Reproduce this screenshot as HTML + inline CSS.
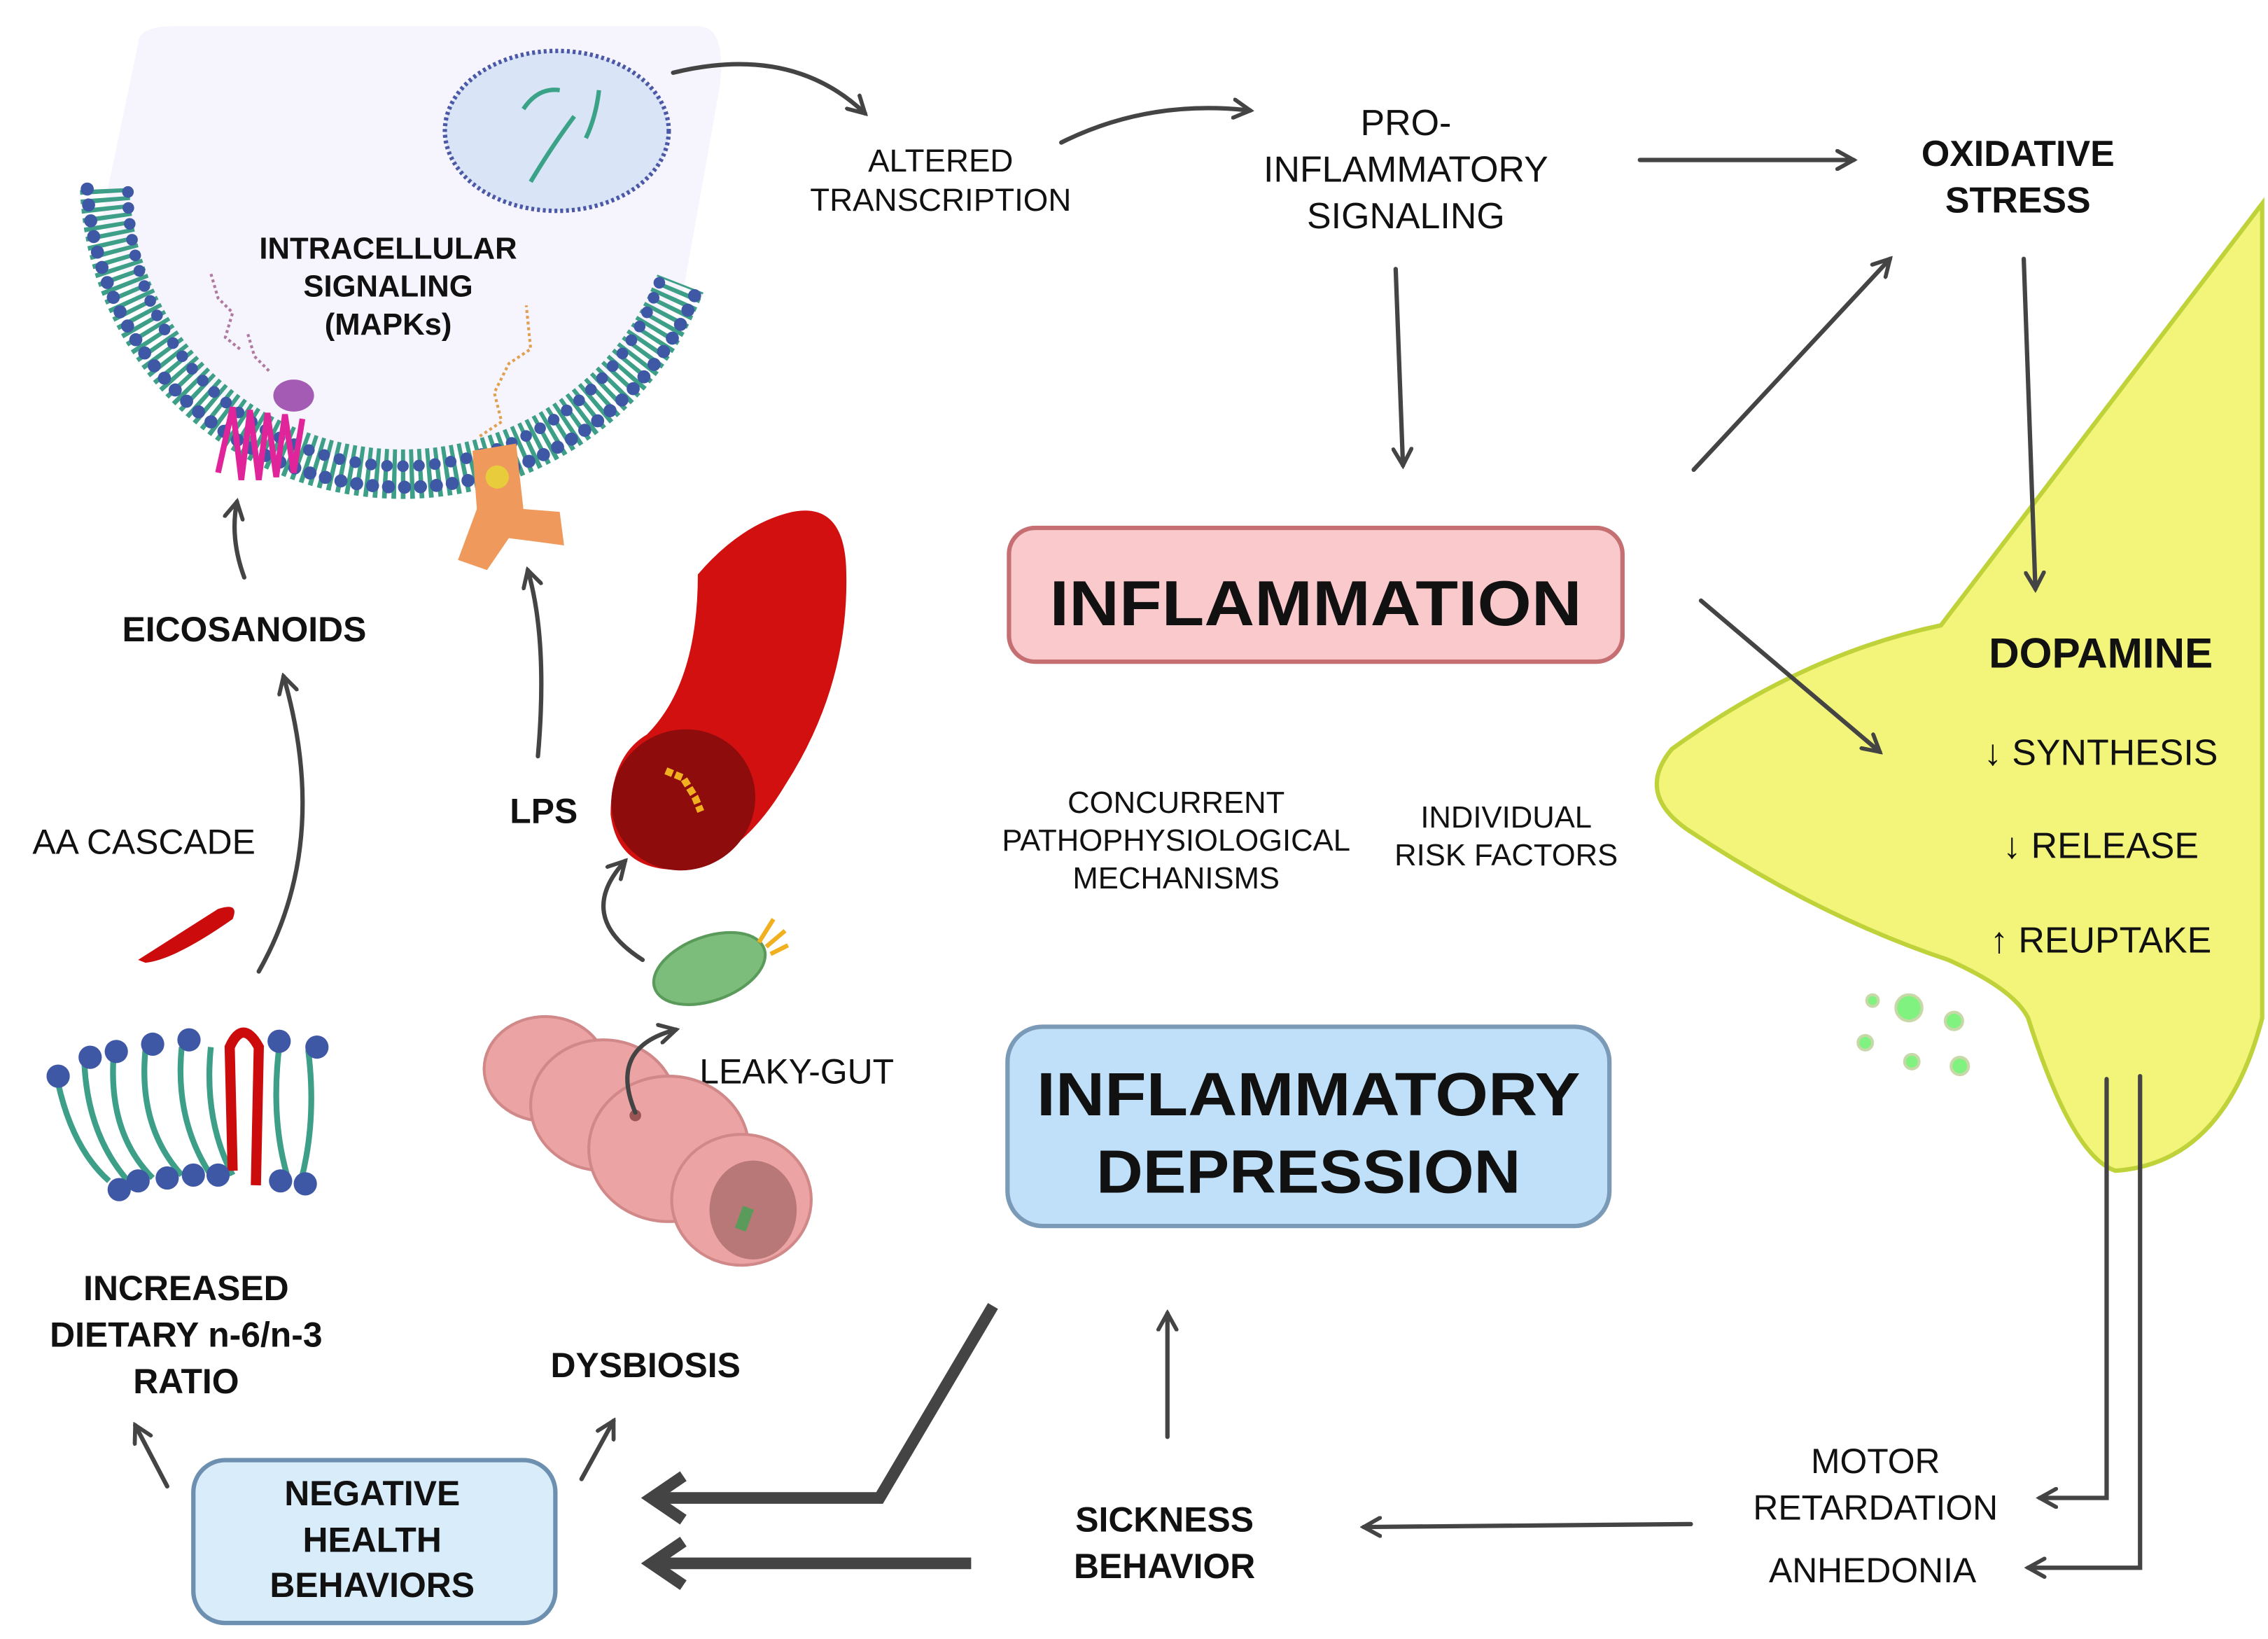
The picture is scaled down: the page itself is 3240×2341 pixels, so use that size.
<!DOCTYPE html>
<html><head><meta charset="utf-8"><style>
html,body{margin:0;padding:0;background:#fff;}
svg{display:block;}
text{font-family:"Liberation Sans","DejaVu Sans",sans-serif;fill:#111;text-anchor:middle;}
.b{font-weight:bold;}
</style></head><body>
<svg width="3240" height="2341" viewBox="0 0 1560 1127" preserveAspectRatio="none" xmlns="http://www.w3.org/2000/svg">
<defs>
<marker id="a" viewBox="0 0 12 12" refX="10" refY="6" markerWidth="5" markerHeight="5" orient="auto" markerUnits="strokeWidth">
<path d="M1,1 L10,6 L1,11" fill="none" stroke="#444" stroke-width="2.2" stroke-linecap="round"/></marker>
<marker id="t" viewBox="0 0 12 12" refX="3" refY="6" markerWidth="4" markerHeight="4" orient="auto" markerUnits="strokeWidth">
<path d="M8,1 L2,6 L8,11" fill="none" stroke="#444" stroke-width="2.4" stroke-linecap="round"/></marker>
</defs>

<!-- cell background -->
<path d="M95,30 Q95,18 120,18 L480,18 Q500,18 495,60 L470,200 Q400,300 268,320 Q120,300 70,150 Z" fill="#f6f4fd"/>
<!-- nucleus -->
<ellipse cx="383" cy="90" rx="77" ry="55" fill="#d9e4f6" stroke="#4a58a6" stroke-width="3" stroke-dasharray="2 2"/>
<g stroke="#3aa387" stroke-width="3" fill="none">
<path d="M360,75 Q370,60 385,62"/><path d="M365,125 Q380,100 395,80"/><path d="M403,95 Q410,80 412,62"/>
</g>
<!-- curved membrane -->
<path d="M72,130 A205 205 0 0 0 468,195" fill="none" stroke="#3d9f88" stroke-width="34" stroke-dasharray="3 3"/>
<path d="M60,130 A218 218 0 0 0 480,198" fill="none" stroke="#3f58a6" stroke-width="9" stroke-linecap="round" stroke-dasharray="0 11"/>
<path d="M88,132 A188 188 0 0 0 455,190" fill="none" stroke="#3f58a6" stroke-width="8" stroke-linecap="round" stroke-dasharray="0 11"/>
<!-- pink receptor -->
<path d="M150,325 L160,280 L166,330 L172,282 L178,330 L184,284 L190,328 L196,285 L202,325 L208,288" fill="none" stroke="#e0249a" stroke-width="4"/>
<ellipse cx="202" cy="272" rx="14" ry="11" fill="#a45bb4"/>
<!-- orange receptor -->
<path d="M325,310 L355,305 L360,350 L385,352 L388,375 L350,370 L335,392 L315,385 L328,350 Z" fill="#ef9a5c"/>
<circle cx="342" cy="328" r="8" fill="#e8cc3c"/>
<!-- dotted arrows -->
<g fill="none" stroke-width="2" stroke-dasharray="2 2">
<path d="M165,240 L155,232 L160,215 L150,205 L145,188" stroke="#b07aa0"/>
<path d="M185,255 L175,245 L170,228" stroke="#b07aa0"/>
<path d="M330,300 L345,290 L340,270 L350,250 L365,240 L362,210" stroke="#e0a050"/>
</g>

<!-- Top texts -->
<text x="267" y="178" font-size="21" class="b">INTRACELLULAR</text>
<text x="267" y="204" font-size="21" class="b">SIGNALING</text>
<text x="267" y="230" font-size="21" class="b">(MAPKs)</text>
<text x="647" y="118" font-size="22">ALTERED</text>
<text x="647" y="145" font-size="22">TRANSCRIPTION</text>
<text x="967" y="93" font-size="25">PRO-</text>
<text x="967" y="125" font-size="25">INFLAMMATORY</text>
<text x="967" y="157" font-size="25">SIGNALING</text>
<text x="1388" y="114" font-size="25" class="b">OXIDATIVE</text>
<text x="1388" y="146" font-size="25" class="b">STRESS</text>

<!-- neuron -->
<path d="M1556,140 L1335,430 Q1240,450 1150,515 Q1125,545 1160,570 Q1250,630 1340,660 Q1385,680 1395,700 Q1425,795 1455,805 Q1530,800 1556,700 Z" fill="#f2f57a" stroke="#bfd23a" stroke-width="3"/>
<g fill="#7ff27f" stroke="#c7d9a8" stroke-width="2">
<circle cx="1313" cy="693" r="9"/><circle cx="1288" cy="688" r="4"/><circle cx="1344" cy="702" r="6"/>
<circle cx="1283" cy="717" r="5"/><circle cx="1315" cy="730" r="5"/><circle cx="1348" cy="733" r="6"/>
</g>
<text x="1445" y="459" font-size="29" class="b">DOPAMINE</text>
<text x="1445" y="526" font-size="25">↓ SYNTHESIS</text>
<text x="1445" y="590" font-size="25">↓ RELEASE</text>
<text x="1445" y="655" font-size="25">↑ REUPTAKE</text>

<!-- boxes -->
<rect x="694" y="363" width="422" height="92" rx="18" fill="#f9c9cc" stroke="#c66f72" stroke-width="3"/>
<text x="905" y="430" font-size="44" class="b" textLength="366" lengthAdjust="spacingAndGlyphs">INFLAMMATION</text>
<rect x="693" y="706" width="414" height="137" rx="24" fill="#bfe0f8" stroke="#7a9ab8" stroke-width="3"/>
<text x="900" y="767" font-size="42" class="b" textLength="374" lengthAdjust="spacingAndGlyphs">INFLAMMATORY</text>
<text x="900" y="820" font-size="42" class="b" textLength="292" lengthAdjust="spacingAndGlyphs">DEPRESSION</text>
<rect x="133" y="1004" width="249" height="112" rx="22" fill="#d9ecfa" stroke="#6d8fb0" stroke-width="3"/>
<text x="256" y="1035" font-size="24" class="b">NEGATIVE</text>
<text x="256" y="1067" font-size="24" class="b">HEALTH</text>
<text x="256" y="1098" font-size="24" class="b">BEHAVIORS</text>

<text x="809" y="559" font-size="21">CONCURRENT</text>
<text x="809" y="585" font-size="21">PATHOPHYSIOLOGICAL</text>
<text x="809" y="611" font-size="21">MECHANISMS</text>
<text x="1036" y="569" font-size="21">INDIVIDUAL</text>
<text x="1036" y="595" font-size="21">RISK FACTORS</text>

<!-- left texts -->
<text x="168" y="441" font-size="24" class="b">EICOSANOIDS</text>
<text x="99" y="587" font-size="24">AA CASCADE</text>
<text x="374" y="566" font-size="24" class="b">LPS</text>
<text x="548" y="745" font-size="24">LEAKY-GUT</text>
<text x="128" y="894" font-size="24" class="b">INCREASED</text>
<text x="128" y="926" font-size="24" class="b">DIETARY n-6/n-3</text>
<text x="128" y="958" font-size="24" class="b">RATIO</text>
<text x="444" y="947" font-size="24" class="b">DYSBIOSIS</text>
<text x="801" y="1053" font-size="24" class="b">SICKNESS</text>
<text x="801" y="1085" font-size="24" class="b">BEHAVIOR</text>
<text x="1290" y="1013" font-size="24">MOTOR</text>
<text x="1290" y="1045" font-size="24">RETARDATION</text>
<text x="1288" y="1088" font-size="24">ANHEDONIA</text>

<!-- red capsule (LPS bacterium) -->
<path d="M480,395 Q510,360 545,352 Q580,345 582,390 Q585,470 540,540 Q510,590 470,598 Q425,600 420,560 Q420,520 445,505 Q480,470 480,395 Z" fill="#d31010"/>
<ellipse cx="470" cy="550" rx="50" ry="48" fill="#8e0c0c" transform="rotate(-30 470 550)"/>
<path d="M458,530 L470,535 L478,548 L482,558" stroke="#f0b020" stroke-width="5" stroke-dasharray="5 2" fill="none"/>
<!-- green bacterium -->
<ellipse cx="488" cy="666" rx="40" ry="22" fill="#7cbd7c" stroke="#5a9a5a" stroke-width="2" transform="rotate(-20 488 666)"/>
<path d="M522,648 L532,632 M527,651 L540,640 M530,656 L542,650" stroke="#f0b020" stroke-width="3"/>
<!-- gut -->
<g fill="#eba3a3" stroke="#d08888" stroke-width="2">
<ellipse cx="375" cy="735" rx="42" ry="36"/>
<ellipse cx="415" cy="760" rx="50" ry="45"/>
<ellipse cx="460" cy="790" rx="55" ry="50"/>
<ellipse cx="510" cy="825" rx="48" ry="45"/>
</g>
<ellipse cx="518" cy="832" rx="30" ry="34" fill="#b87878"/>
<rect x="508" y="830" width="8" height="16" fill="#5a9a5a" transform="rotate(20 512 838)"/>
<circle cx="437" cy="767" r="4" fill="#9a5555"/>
<!-- AA small red -->
<path d="M95,660 L150,625 Q165,620 160,632 Q120,660 100,662 Z" fill="#cc0c0c"/>
<!-- flat membrane -->
<g stroke="#3d9f88" stroke-width="4" fill="none">
<path d="M40,745 Q50,790 75,812"/><path d="M58,730 Q60,780 88,812"/><path d="M78,728 Q75,780 105,810"/>
<path d="M100,722 Q95,775 125,808"/><path d="M125,720 Q120,770 145,808"/><path d="M145,720 Q140,770 160,808"/>
<path d="M192,720 Q186,770 198,810"/><path d="M212,722 Q218,770 207,812"/>
</g>
<path d="M160,805 L158,720 Q167,700 178,720 L176,815" fill="none" stroke="#cc0c0c" stroke-width="7"/>
<g fill="#3f58a6">
<circle cx="40" cy="740" r="8"/><circle cx="62" cy="727" r="8"/><circle cx="80" cy="723" r="8"/><circle cx="105" cy="718" r="8"/>
<circle cx="130" cy="715" r="8"/><circle cx="192" cy="716" r="8"/><circle cx="218" cy="720" r="8"/>
<circle cx="82" cy="818" r="8"/><circle cx="95" cy="812" r="8"/><circle cx="115" cy="810" r="8"/><circle cx="133" cy="808" r="8"/>
<circle cx="150" cy="808" r="8"/><circle cx="193" cy="812" r="8"/><circle cx="210" cy="814" r="8"/>
</g>

<!-- connectors -->
<g fill="none" stroke="#444" stroke-width="3" marker-end="url(#a)" stroke-linecap="round">
<path d="M463,50 Q545,30 595,78"/>
<path d="M730,98 Q790,68 860,76"/>
<path d="M1128,110 L1275,110"/>
<path d="M960,185 L965,320"/>
<path d="M1165,323 L1300,178"/>
<path d="M1392,178 L1400,405"/>
<path d="M1170,413 L1293,517"/>
<path d="M168,397 Q158,370 163,345"/>
<path d="M370,520 Q377,440 363,392"/>
<path d="M178,668 Q228,580 195,465"/>
<path d="M442,660 Q395,630 430,592"/>
<path d="M437,765 Q418,720 465,708"/>
<path d="M115,1022 L93,980"/>
<path d="M400,1017 L422,977"/>
<path d="M803,988 L803,903"/>
<path d="M1163,1048 L938,1050"/>
<path d="M1449,742 L1449,1030 L1403,1030"/>
<path d="M1472,740 L1472,1078 L1395,1078"/>
</g>
<g fill="none" stroke="#444" stroke-width="8">
<path d="M683,898 L605,1030 L455,1030"/>
<path d="M668,1075 L455,1075"/>
<path d="M470,1015 L448,1030 L470,1045"/>
<path d="M470,1060 L448,1075 L470,1090"/>
</g>
</svg>
</body></html>
